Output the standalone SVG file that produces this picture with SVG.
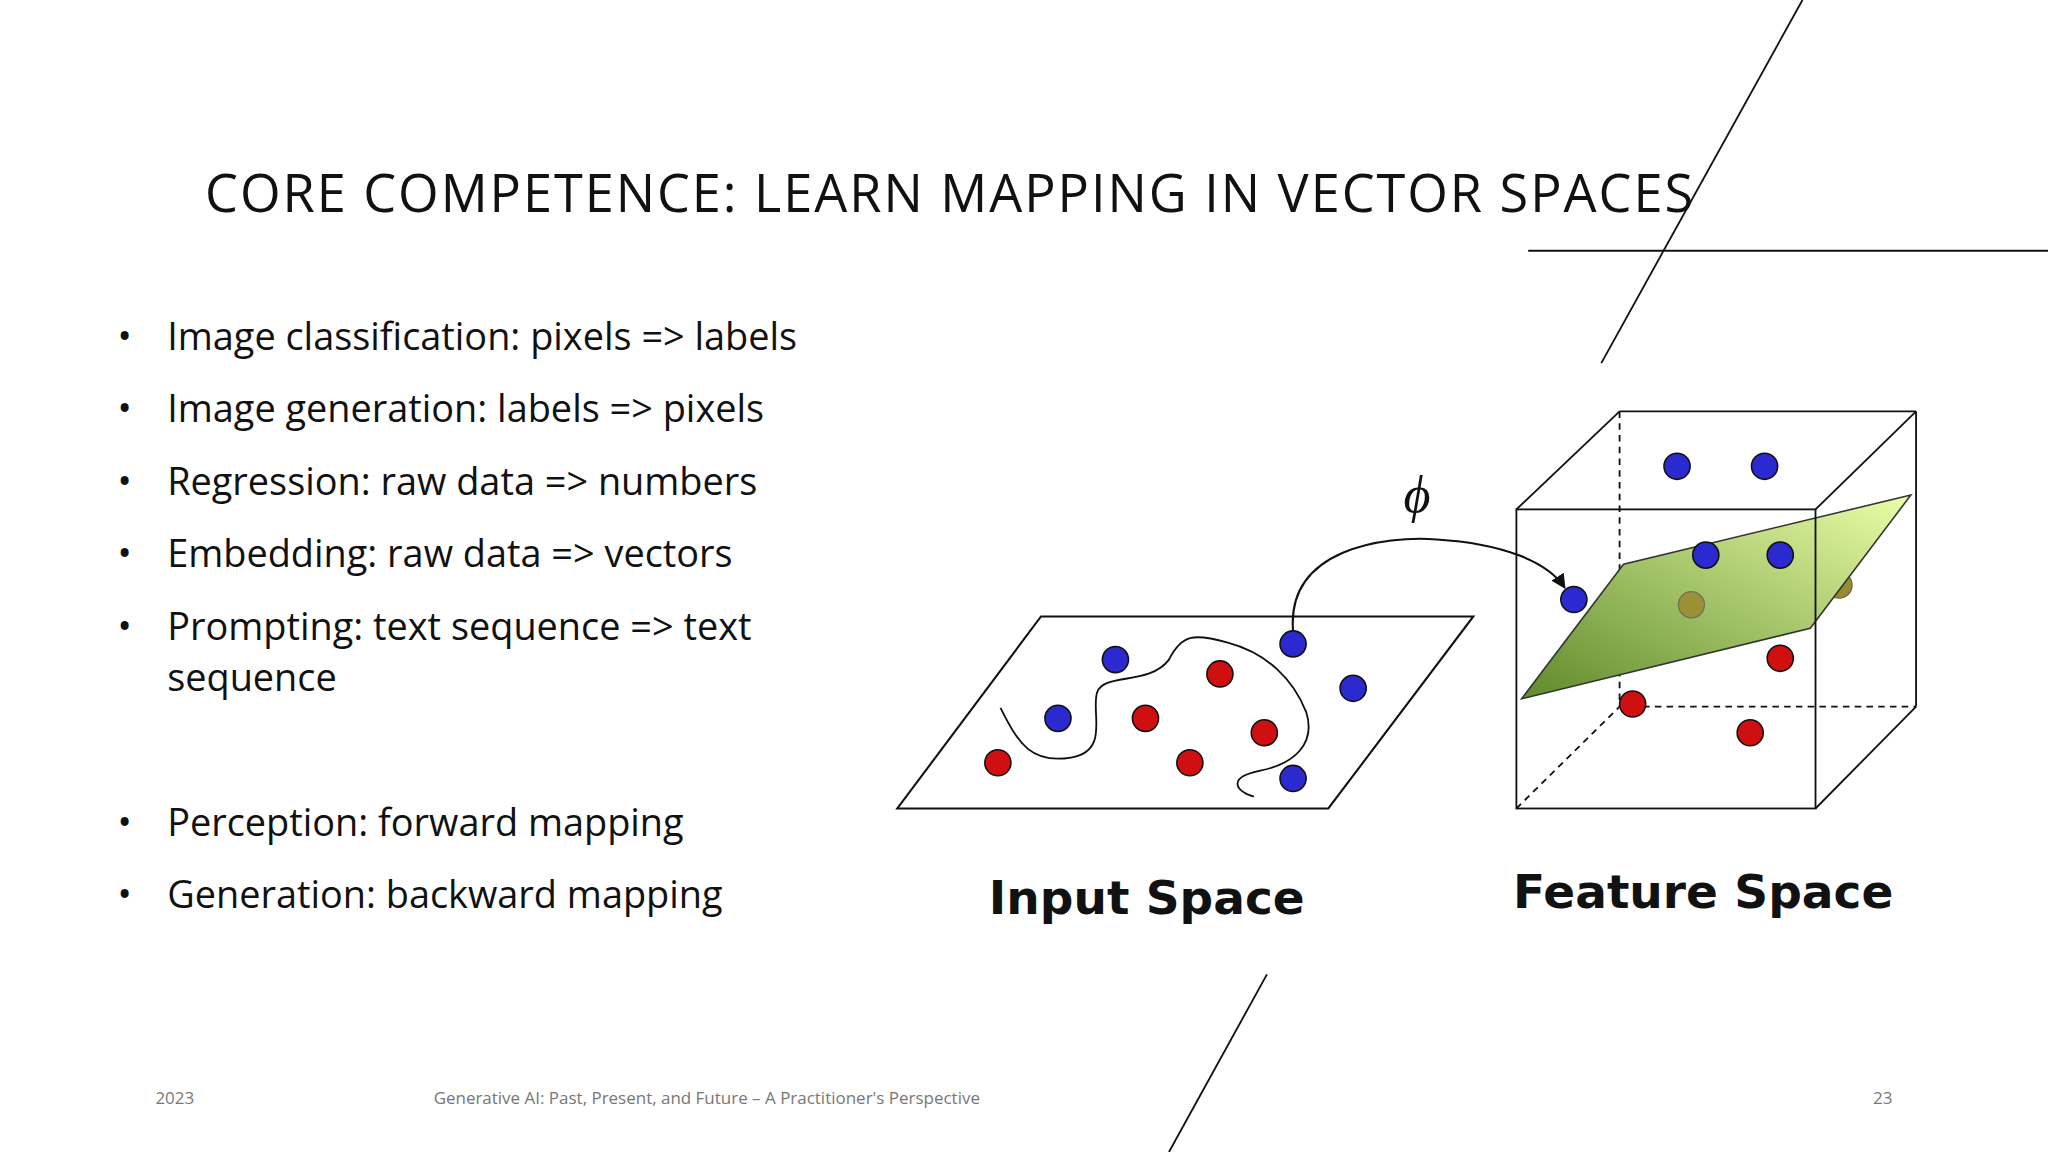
<svg xmlns="http://www.w3.org/2000/svg" width="2048" height="1152" viewBox="0 0 2048 1152">
<style>
.t{font-family:"Open Sans","Liberation Sans",sans-serif;fill:#111}
.b{font-size:29px}
.f{font-size:13px;fill:#777}
.blue{fill:#2a2ad0;stroke:#111;stroke-width:1.2}
.red{fill:#d01010;stroke:#111;stroke-width:1.2}
.ol{fill:#9a8a30;stroke:#665;stroke-width:1}
.ln{stroke:#111;stroke-width:1.6;fill:none}
.lab{font-family:"DejaVu Sans","Liberation Sans",sans-serif;font-weight:bold;font-size:36px;fill:#111;text-anchor:middle}
</style>
<defs>
<linearGradient id="g" x1="0" y1="1" x2="1" y2="0"><stop offset="0" stop-color="#5f8a2c"/><stop offset="1" stop-color="#eaffa8"/></linearGradient>
<marker id="ah" viewBox="0 0 10 10" refX="9" refY="5" markerWidth="7" markerHeight="7" orient="auto"><path d="M0,0L10,5L0,10z" fill="#111"/></marker>
</defs>
<rect width="2048" height="1152" fill="#fff"/>
<g transform="scale(1.30612)">
<g id="deco" class="ln" style="stroke-width:1.4">
<line x1="1380" y1="0" x2="1226" y2="278"/>
<line x1="1170" y1="192" x2="1568" y2="192"/>
<line x1="970" y1="746" x2="895" y2="882"/>
</g>
<text id="title" class="t" x="157" y="162" font-size="40" letter-spacing="1.5">CORE COMPETENCE: LEARN MAPPING IN VECTOR SPACES</text>
<g id="bullets" class="t b">
<text x="90" y="268">•</text><text x="128" y="268">Image classification: pixels =&gt; labels</text>
<text x="90" y="323">•</text><text x="128" y="323">Image generation: labels =&gt; pixels</text>
<text x="90" y="379">•</text><text x="128" y="379">Regression: raw data =&gt; numbers</text>
<text x="90" y="434">•</text><text x="128" y="434">Embedding: raw data =&gt; vectors</text>
<text x="90" y="490">•</text><text x="128" y="490">Prompting: text sequence =&gt; text</text>
<text x="128" y="529">sequence</text>
<text x="90" y="640">•</text><text x="128" y="640">Perception: forward mapping</text>
<text x="90" y="695">•</text><text x="128" y="695">Generation: backward mapping</text>
</g>
<g id="input-space">
<polygon class="ln" points="797,472 1128,472 1017,619 687,619"/>
<path class="ln" style="stroke-width:1.4" d="M766,542 C780,570 790,585 820,580 C850,575 835,545 840,530 C845,515 880,525 895,505 C905,485 915,485 940,492 C970,500 990,520 1000,545 C1008,570 990,585 965,590 C940,595 945,605 960,610"/>
<circle class="blue" cx="854" cy="505" r="10"/><circle class="blue" cx="810" cy="550" r="10"/>
<circle class="blue" cx="990" cy="493" r="10"/><circle class="blue" cx="1036" cy="527" r="10"/>
<circle class="blue" cx="990" cy="596" r="10"/>
<circle class="red" cx="934" cy="516" r="10"/><circle class="red" cx="877" cy="550" r="10"/>
<circle class="red" cx="968" cy="561" r="10"/><circle class="red" cx="911" cy="584" r="10"/>
<circle class="red" cx="764" cy="584" r="10"/>
<text class="lab" x="878" y="700">Input Space</text>
</g>
<g id="feature-space">
<g class="ln" style="stroke-width:1.4;stroke-dasharray:5,4"><line x1="1240" y1="315" x2="1240" y2="541"/><line x1="1240" y1="541" x2="1467" y2="541"/><line x1="1161" y1="619" x2="1240" y2="541"/></g>
<circle class="blue" cx="1284" cy="357" r="10"/><circle class="blue" cx="1351" cy="357" r="10"/>
<circle class="ol" cx="1408" cy="448" r="10"/>
<polygon points="1165,535 1243,432 1463,379 1386,481" fill="url(#g)" stroke="#333" stroke-width="1.2"/>
<circle class="ol" cx="1295" cy="463" r="10" opacity="0.85"/>
<circle class="blue" cx="1306" cy="425" r="10"/><circle class="blue" cx="1363" cy="425" r="10"/>
<circle class="blue" cx="1205" cy="459" r="10"/>
<circle class="red" cx="1363" cy="504" r="10"/><circle class="red" cx="1250" cy="539" r="10"/><circle class="red" cx="1340" cy="561" r="10"/>
<g class="ln" style="stroke-width:1.4"><rect x="1161" y="390" width="229" height="229"/><line x1="1240" y1="315" x2="1467" y2="315"/><line x1="1467" y1="315" x2="1467" y2="541"/><line x1="1161" y1="390" x2="1240" y2="315"/><line x1="1390" y1="390" x2="1467" y2="315"/><line x1="1390" y1="619" x2="1467" y2="541"/></g>
<text class="lab" x="1304" y="695">Feature Space</text>
</g>
<g id="connectors">
<path class="ln" d="M990,483 C985,420 1060,410 1100,413 C1150,416 1185,430 1198,450" marker-end="url(#ah)"/>
<text x="1085" y="392" font-family="Liberation Serif,serif" font-style="italic" font-size="40" text-anchor="middle" fill="#111">ϕ</text>
</g>
<g id="footer" class="t f">
<text x="119" y="845">2023</text>
<text x="332" y="845">Generative AI: Past, Present, and Future – A Practitioner's Perspective</text>
<text x="1434" y="845">23</text>
</g>
</g>
</svg>
